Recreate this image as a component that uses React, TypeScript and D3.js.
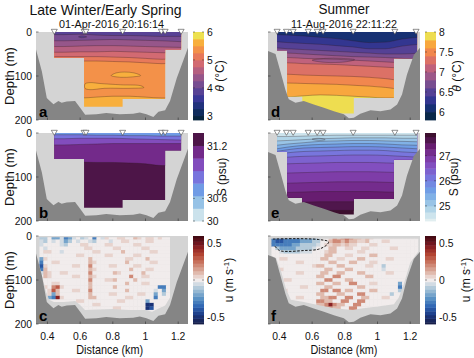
import React from "react";
import * as d3 from "d3";

type Pt = [number, number];
type Iso = [number, number[]];
type Lens = [number, Pt[]];

// layout
const W = 474;
const H = 358;
const PW = 152;
const PH = 88;
const CBW = 11;
const colX = [36, 268];
const rowY = [32, 133, 236];
const LIGHT = "#d4d4d4";
const GROUND = "#858585";
const LINE = "rgba(45,25,25,0.6)";
const FONT = "Liberation Sans, Arial, Helvetica, sans-serif";
const SQUEEZE = 0.9; // the figure's text is a little narrow

// ---------------- data ----------------
const distTicks = [0.4, 0.6, 0.8, 1, 1.2];
const depthTicks = [0, 100, 200];

// distances (km) where isoline depths were read
const aprKnots = [0.44, 0.5, 0.6, 0.7, 0.8, 0.9, 1.0, 1.1, 1.22];
const augKnots = [0.38, 0.45, 0.55, 0.65, 0.75, 0.85, 0.95, 1.05, 1.15, 1.25];

// CTD casts (triangles)
const aprStations = [0.442, 0.624, 0.636, 0.86, 1.097, 1.12, 1.218];
const augStations = [0.386, 0.443, 0.484, 0.576, 0.631, 0.667, 0.851, 1.106, 1.236];

// seafloor (km, m)
const aprSeafloor: Pt[] = [
  [0.33, 40], [0.366, 90], [0.396, 150], [0.41, 155], [0.437, 164], [0.467, 157], [0.487, 161],
  [0.518, 158], [0.569, 157], [0.6, 172], [0.631, 188], [0.7, 187], [0.76, 184], [0.842, 187],
  [0.924, 186], [0.965, 183], [1.006, 187], [1.048, 193], [1.079, 181], [1.12, 178], [1.15, 157],
  [1.191, 105], [1.26, 36],
];
const augSeafloor: Pt[] = [
  [0.33, 43], [0.376, 50], [0.406, 90], [0.437, 132], [0.457, 153], [0.498, 161], [0.549, 157],
  [0.61, 165], [0.672, 172], [0.733, 180], [0.794, 187], [0.825, 196], [0.855, 195], [0.895, 186],
  [0.957, 178], [1.018, 180], [1.079, 176], [1.12, 165], [1.15, 142], [1.18, 97], [1.222, 52], [1.26, 36],
];

// sampled areas
const aprCtdArea: Pt[] = [
  [0.442, 0], [1.218, 0], [1.218, 40], [1.12, 40], [1.12, 152], [0.86, 152], [0.86, 170],
  [0.624, 170], [0.624, 59], [0.442, 59],
];
const augCtdArea: Pt[] = [
  [0.386, 0], [1.242, 0], [1.242, 60], [1.1, 60], [1.1, 150], [0.855, 150], [0.855, 185],
  [0.54, 185], [0.54, 147], [0.447, 147], [0.447, 42], [0.386, 42],
];
const aprAdcpArea: Pt[] = [
  [0.35, 3], [1.15, 3], [1.15, 140], [1.12, 158], [1.08, 165], [1.04, 172], [1.0, 168], [0.9, 168],
  [0.8, 166], [0.7, 167], [0.63, 168], [0.6, 157], [0.57, 148], [0.5, 150], [0.44, 150], [0.41, 145],
  [0.39, 125], [0.366, 88], [0.35, 68],
];
const augAdcpArea: Pt[] = [
  [0.35, 6], [1.25, 6], [1.25, 35], [1.2, 60], [1.16, 110], [1.13, 140], [1.1, 155], [1.0, 160],
  [0.9, 165], [0.85, 168], [0.75, 165], [0.65, 158], [0.55, 150], [0.47, 145], [0.44, 120],
  [0.41, 80], [0.38, 50], [0.35, 45],
];

// potential temperature, April
const thetaAprLevels = [2.85, 3, 3.25, 3.5, 3.75, 4, 4.25, 4.5, 4.75, 5, 5.25, 5.5, 5.75, 6];
const thetaAprTicks = [3, 4, 5, 6];
const thetaAprIso: Iso[] = [
  [4.0, [6, 6, 5, 7, 8, 8, 9, 10, 10]],
  [4.25, [20, 20, 19, 18, 17, 18, 19, 20, 22]],
  [4.5, [33, 33, 32, 31, 31, 32, 33, 34, 35]],
  [4.75, [46, 46, 45, 45, 44, 45, 46, 47, 48]],
  [5.0, [56, 56, 56, 56, 57, 58, 60, 62, 60]],
  [5.25, [68, 68, 66, 66, 67, 68, 70, 72, 70]],
  [5.5, [150, 150, 150, 148, 146, 146, 148, 150, 150]],
];
const thetaAprLenses: Lens[] = [
  [5.6, [[0.79, 99], [0.82, 93], [0.87, 91], [0.93, 93], [0.97, 99], [0.92, 102], [0.85, 103]]],
  [5.6, [[0.63, 118], [0.66, 115], [0.72, 117], [0.85, 120], [0.97, 122], [0.99, 126], [0.9, 128], [0.75, 128], [0.66, 131], [0.63, 128]]],
  [3.9, [[0.59, 11], [0.61, 9], [0.64, 11], [0.61, 13]]],
];

// potential temperature, August
const thetaAugLevels = [5.8, 6.0, 6.2, 6.4, 6.6, 6.8, 7.0, 7.2, 7.4, 7.6, 7.8, 8.0];
const thetaAugTicks = [6, 6.5, 7, 7.5, 8];
const thetaAugIso: Iso[] = [
  [6.2, [6, 7, 9, 12, 15, 20, 24, 23, 16, 12]],
  [6.4, [22, 24, 26, 28, 31, 34, 38, 38, 32, 28]],
  [6.6, [36, 38, 40, 42, 44, 46, 48, 50, 50, 48]],
  [6.8, [48, 48, 50, 52, 54, 56, 57, 58, 60, 62]],
  [7.0, [58, 58, 60, 61, 62, 64, 66, 68, 70, 72]],
  [7.2, [70, 70, 72, 73, 74, 76, 78, 80, 82, 84]],
  [7.4, [98, 96, 98, 99, 100, 101, 103, 106, 110, 110]],
  [7.6, [118, 116, 117, 118, 119, 121, 123, 126, 130, 130]],
  [7.8, [150, 148, 145, 143, 144, 146, 148, 150, 150, 150]],
];
const thetaAugLenses: Lens[] = [
  [6.9, [[0.6, 64], [0.68, 60], [0.78, 60], [0.86, 63], [0.8, 68], [0.68, 69]]],
];

// salinity, April
const salAprLevels = [30, 30.4, 30.65, 30.8, 30.95, 31.1, 31.2, 31.35];
const salAprTicks = [30, 30.6, 31.2];
const salAprIso: Iso[] = [
  [30.8, [4, 4, 4, 5, 5, 6, 6, 7, 7]],
  [30.95, [13, 13, 12, 12, 12, 13, 14, 15, 16]],
  [31.1, [27, 27, 26, 25, 24, 24, 24, 24, 24]],
  [31.2, [64, 64, 66, 67, 67, 68, 70, 74, 74]],
];

// salinity, August
const salAugLevels = [24.4, 24.5, 24.75, 25, 25.25, 25.5, 25.75, 26, 26.25, 26.5, 26.75, 27, 27.25, 27.5, 27.75, 27.9];
const salAugTicks = [25, 26, 27];
const salAugIso: Iso[] = [
  [24.75, [8, 8, 7, 6, 5, 5, 5, 5, 5, 5]],
  [25.0, [18, 17, 15, 13, 12, 11, 11, 11, 12, 12]],
  [25.25, [28, 25, 22, 19, 18, 17, 17, 18, 19, 20]],
  [25.5, [36, 32, 28, 26, 25, 24, 24, 25, 27, 28]],
  [25.75, [42, 38, 34, 33, 32, 31, 31, 32, 34, 36]],
  [26.0, [49, 45, 42, 41, 40, 39, 39, 40, 43, 45]],
  [26.25, [58, 55, 53, 52, 51, 50, 50, 51, 53, 55]],
  [26.5, [72, 70, 69, 68, 67, 67, 67, 68, 69, 71]],
  [26.75, [92, 91, 90, 89, 88, 88, 88, 89, 90, 92]],
  [27.0, [115, 114, 113, 112, 111, 111, 111, 112, 113, 115]],
  [27.25, [136, 135, 134, 133, 133, 133, 133, 134, 135, 136]],
  [27.5, [160, 158, 157, 156, 156, 156, 156, 157, 158, 160]],
  [27.75, [180, 178, 177, 176, 176, 176, 176, 177, 178, 180]],
];
const salAugLenses: Lens[] = [
  [25.1, [[0.6, 14], [0.64, 12], [0.68, 15], [0.64, 17]]],
];

// along-channel velocity, cells 0.025 km x 8 m starting at 0.35 km
const uLevels = [-0.6, -0.575, -0.525, -0.475, -0.425, -0.375, -0.325, -0.275, -0.225, -0.175, -0.125,
  -0.075, -0.025, 0.025, 0.075, 0.125, 0.175, 0.225, 0.275, 0.325, 0.375, 0.425, 0.475, 0.525, 0.575, 0.6];
const uTicks = [-0.5, 0, 0.5];
const uCode: Record<string, number> = {
  f: -0.52, e: -0.42, d: -0.3, c: -0.2, b: -0.1, a: -0.05,
  "0": 0, "1": 0.05, "2": 0.1, "3": 0.2, "4": 0.3, "5": 0.45,
};
const uAprRows = [
  "bb0ccadc a0ba0d0a 10011002 10110100",
  "ab0a0acb 0a00ab00 0a001100 00110000",
  "a0000ab0 00110000 11000001 10000000",
  "0a000000 00011000 00110000 01100000",
  "01100a00 00000110 00002000 00011000",
  "00000000 01100000 11000001 10000000",
  "c1000000 00002000 00000110 00200000",
  "d0011000 00002100 00000200 00011000",
  "e1000000 11003000 01100001 10000000",
  "d2000000 00002100 00000020 00110000",
  "a2100110 00003000 00210000 02000000",
  "02100000 11002100 00000030 01100000",
  "00000000 00003000 11200002 00000000",
  "10011000 00002000 00000200 01100000",
  "01034100 00002000 00200000 00000dd0",
  "00142000 11003000 00000200 0000a0c0",
  "001c2000 00002000 01100000 1100c0b0",
  "00cd5100 00002200 00000110 0000d000",
  "00000000 01100000 00011000 00c00000",
  "00000000 00000110 00000000 00ff0000",
  "00000000 00000000 00110000 00fe0000",
  "00000000 00000000 00000000 00000000",
];
const uAugRows = [
  "ddeddddcc ccb001323 432212100 000000000",
  "deeddddcc cbb002332 322112000 110000000",
  "dddddccbb bba011221 211000110 000000000",
  "0bccccbbb ba0002200 110011000 001100000",
  "00abbbbaa a00012200 000110000 000000000",
  "000000000 000022000 110000220 000000000",
  "001100000 000220011 000220000 011000000",
  "000000110 000002200 022000110 000000000",
  "000000000 012200022 000001100 b00000000",
  "011000000 000022000 220000000 a00000000",
  "000000110 000220022 000220000 011000000",
  "000000000 002200330 000002200 000000000",
  "000110000 000033000 220000000 000000000",
  "000000000 002200220 033000110 0000c0000",
  "000000011 000022000 000220000 0000d0000",
  "001100000 000330330 220000220 0000b0000",
  "000000000 002200022 000330000 00b000000",
  "000000110 000223300 330022000 110000000",
  "000000000 003322003 300330000 000000000",
  "000000000 002235322 003300000 000000000",
  "000000000 000033220 033000000 000000000",
  "000000000 000000000 000000000 000000000",
];
// u = 0 contour around the outflow in August
const uAugZero: Pt[] = [
  [0.36, 7], [0.5, 6], [0.64, 8], [0.7, 13], [0.69, 20], [0.64, 30], [0.55, 33], [0.45, 35], [0.4, 33], [0.37, 22],
];

// colour maps (cmocean thermal / dense / balance)
const thermalStops = ["#042333", "#14306f", "#3a3797", "#6b4a93", "#9c5889", "#cd6677", "#ef7f52", "#f9ab3c", "#e8fa5b"];
const denseStops = ["#e6f1f1", "#a6cfe6", "#6fa2e6", "#7874dd", "#8446b8", "#6c1f78", "#360e24"];
const balanceStops = ["#181c43", "#1a3680", "#2f65b3", "#5d95c5", "#a7c3d6", "#f1ecec", "#dcb0a1", "#c97660", "#b03e2d", "#7c1720", "#3c0912"];

// ---------------- drawing ----------------
const xKm = d3.scaleLinear().domain([0.33, 1.26]).range([0, PW]);
const yDep = d3.scaleLinear().domain([0, 200]).range([0, PH]);
const U_X0 = 0.35;
const U_DX = 0.025;
const U_DZ = 8;

const polyPath = d3.line<Pt>().x((p) => xKm(p[0])).y((p) => yDep(p[1])).curve(d3.curveLinearClosed);
const groundPath = d3.area<Pt>().x((p) => xKm(p[0])).y0(PH).y1((p) => yDep(p[1]));

function ramp(stops: string[]) {
  return d3.scaleLinear<string>()
    .domain(stops.map((_, i) => i / (stops.length - 1)))
    .range(stops)
    .clamp(true);
}

type Scheme = { levels: number[]; frac: (v: number) => number; cmap: (t: number) => string };

function bandColor(s: Scheme, v: number) {
  const L = s.levels;
  let i = d3.bisectRight(L, v) - 1;
  i = Math.max(0, Math.min(L.length - 2, i));
  return s.cmap(s.frac((L[i] + L[i + 1]) / 2));
}

const thermal = ramp(thermalStops);
const dense = ramp(denseStops);
const balance = ramp(balanceStops);

const thetaAprScheme: Scheme = { levels: thetaAprLevels, frac: d3.scaleLinear([2.85, 6], [0, 1]), cmap: thermal };
const thetaAugScheme: Scheme = { levels: thetaAugLevels, frac: d3.scaleLinear([5.8, 8.0], [0, 1]), cmap: thermal };
const salAprScheme: Scheme = {
  levels: salAprLevels,
  frac: d3.scaleLinear(salAprLevels, salAprLevels.map((_, i) => i / (salAprLevels.length - 1))),
  cmap: dense,
};
const salAugScheme: Scheme = { levels: salAugLevels, frac: d3.scaleLinear([24.4, 27.9], [0, 1]), cmap: dense };
const uScheme: Scheme = { levels: uLevels, frac: d3.scaleLinear([-0.6, 0.6], [0, 1]), cmap: balance };

// horizontal text, slightly narrowed like the original
function T(props: { x: number; y: number; size: number; anchor?: string; dy?: string; children: React.ReactNode }) {
  const { x, y, size, anchor, dy, children } = props;
  return (
    <text transform={`translate(${x},${y}) scale(${SQUEEZE},1)`} fontSize={size} textAnchor={anchor ?? "start"}
      dy={dy} fill="#111">
      {children}
    </text>
  );
}

function ContourFill({ knots, iso, lenses, scheme }: { knots: number[]; iso: Iso[]; lenses: Lens[]; scheme: Scheme }) {
  const area = d3.area<number>().x((_, i) => xKm(knots[i])).y0(0).y1((d) => yDep(d)).curve(d3.curveMonotoneX);
  const line = d3.line<number>().x((_, i) => xKm(knots[i])).y((d) => yDep(d)).curve(d3.curveMonotoneX);
  const blob = d3.line<Pt>().x((p) => xKm(p[0])).y((p) => yDep(p[1])).curve(d3.curveCatmullRomClosed);
  const deepest = iso[iso.length - 1][0];
  return (
    <g>
      <rect width={PW} height={PH} fill={bandColor(scheme, deepest + 1e-6)} />
      {[...iso].reverse().map(([v, d]) => (
        <path key={"f" + v} d={area(d) ?? ""} fill={bandColor(scheme, v - 1e-6)} />
      ))}
      {lenses.map(([v, pts], i) => (
        <path key={"l" + i} d={blob(pts) ?? ""} fill={bandColor(scheme, v)} stroke={LINE} strokeWidth={0.5} />
      ))}
      {iso.map(([v, d]) => (
        <path key={"c" + v} d={line(d) ?? ""} fill="none" stroke={LINE} strokeWidth={0.5} />
      ))}
    </g>
  );
}

function VelocityCells({ rows }: { rows: string[] }) {
  const cells: React.ReactNode[] = [];
  rows.forEach((r, i) => {
    const s = r.replace(/ /g, "");
    for (let j = 0; j < s.length; j++) {
      const v = uCode[s[j]];
      if (v === undefined) continue;
      const xa = xKm(U_X0 + j * U_DX);
      const xb = xKm(U_X0 + (j + 1) * U_DX);
      cells.push(
        <rect key={i + "-" + j} x={xa} y={yDep(i * U_DZ)} width={xb - xa + 0.3} height={yDep(U_DZ) + 0.3}
          fill={bandColor(uScheme, v)} />
      );
    }
  });
  return <g>{cells}</g>;
}

function Section(props: {
  id: string; col: number; row: number; seafloor: Pt[]; area: Pt[]; stations?: number[];
  letter: string; children: React.ReactNode; overlay?: React.ReactNode;
}) {
  const { id, col, row, seafloor, area, stations, letter, children, overlay } = props;
  return (
    <g transform={`translate(${colX[col]},${rowY[row]})`}>
      <defs>
        <clipPath id={id}>
          <path d={polyPath(area) ?? ""} />
        </clipPath>
      </defs>
      <rect width={PW} height={PH} fill={LIGHT} />
      <g clipPath={`url(#${id})`}>{children}</g>
      <path d={groundPath(seafloor) ?? ""} fill={GROUND} />
      {overlay}
      {depthTicks.map((t) => (
        <line key={"yt" + t} x1={0} x2={2.5} y1={yDep(t)} y2={yDep(t)} stroke="#333" strokeWidth={0.6} />
      ))}
      {distTicks.map((t) => (
        <line key={"xt" + t} x1={xKm(t)} x2={xKm(t)} y1={PH} y2={PH - 2.5} stroke="#333" strokeWidth={0.6} />
      ))}
      {stations &&
        stations.map((s, i) => (
          <path key={"st" + i} transform={`translate(${xKm(s)},-0.3)`} d="M-3,-2.4L3,-2.4L0,2.6Z"
            fill="#fff" stroke="#444" strokeWidth={0.6} />
        ))}
      <text x={3} y={PH - 3} fontSize={15} fontWeight="bold" fill="#000">{letter}</text>
    </g>
  );
}

function Colorbar(props: {
  col: number; row: number; scheme: Scheme; ticks: number[]; title: React.ReactNode; titleX: number;
}) {
  const { col, row, scheme, ticks, title, titleX } = props;
  const x = colX[col] + PW + 5;
  const y = rowY[row];
  const pos = (v: number) => y + PH * (1 - scheme.frac(v));
  const L = scheme.levels;
  return (
    <g>
      {L.slice(1).map((hi, i) => (
        <rect key={i} x={x} width={CBW} y={pos(hi)} height={pos(L[i]) - pos(hi) + 0.4}
          fill={scheme.cmap(scheme.frac((L[i] + hi) / 2))} />
      ))}
      {ticks.map((t) => (
        <g key={t}>
          <line x1={x} x2={x + 2} y1={pos(t)} y2={pos(t)} stroke="#333" strokeWidth={0.5} />
          <line x1={x + CBW - 2} x2={x + CBW} y1={pos(t)} y2={pos(t)} stroke="#333" strokeWidth={0.5} />
          <T x={x + CBW + 3} y={pos(t)} dy="0.35em" size={11.5}>{String(t)}</T>
        </g>
      ))}
      <text transform={`translate(${titleX},${y + PH / 2}) rotate(-90)`} textAnchor="middle" fontSize={12} fill="#111">
        {title}
      </text>
    </g>
  );
}

const lineZero = d3.line<Pt>().x((p) => xKm(p[0])).y((p) => yDep(p[1])).curve(d3.curveCatmullRom);

export default function App() {
  const thetaTitle = (
    <>
      <tspan fontStyle="italic">θ</tspan> (°C)
    </>
  );
  const uTitle = (
    <>
      u (m s<tspan dy={-4} fontSize={8}>-1</tspan>
      <tspan dy={4}>)</tspan>
    </>
  );
  return (
    <svg width={W} height={H} viewBox={`0 0 ${W} ${H}`}
      style={{ position: "fixed", left: 0, top: 0, background: "#fff" }} fontFamily={FONT}>
      {/* titles */}
      <text x={105.5} y={15} textAnchor="middle" fontSize={15} textLength={152} lengthAdjust="spacingAndGlyphs" fill="#111">
        Late Winter/Early Spring
      </text>
      <text x={111.5} y={27.5} textAnchor="middle" fontSize={11} textLength={105} lengthAdjust="spacingAndGlyphs" fill="#111">
        01-Apr-2016 20:16:14
      </text>
      <text x={344} y={13.5} textAnchor="middle" fontSize={14} textLength={51} lengthAdjust="spacingAndGlyphs" fill="#111">
        Summer
      </text>
      <text x={344} y={27.5} textAnchor="middle" fontSize={11} textLength={106} lengthAdjust="spacingAndGlyphs" fill="#111">
        11-Aug-2016 22:11:22
      </text>

      {/* a */}
      <Section id="clipA" col={0} row={0} seafloor={aprSeafloor} area={aprCtdArea} stations={aprStations} letter="a">
        <ContourFill knots={aprKnots} iso={thetaAprIso} lenses={thetaAprLenses} scheme={thetaAprScheme} />
      </Section>
      <Colorbar col={0} row={0} scheme={thetaAprScheme} ticks={thetaAprTicks} title={thetaTitle} titleX={224} />

      {/* b */}
      <Section id="clipB" col={0} row={1} seafloor={aprSeafloor} area={aprCtdArea} stations={aprStations} letter="b">
        <ContourFill knots={aprKnots} iso={salAprIso} lenses={[]} scheme={salAprScheme} />
      </Section>
      <Colorbar col={0} row={1} scheme={salAprScheme} ticks={salAprTicks} title="S (psu)" titleX={226} />

      {/* c */}
      <Section id="clipC" col={0} row={2} seafloor={aprSeafloor} area={aprAdcpArea} letter="c">
        <VelocityCells rows={uAprRows} />
      </Section>
      <Colorbar col={0} row={2} scheme={uScheme} ticks={uTicks} title={uTitle} titleX={233} />

      {/* d */}
      <Section id="clipD" col={1} row={0} seafloor={augSeafloor} area={augCtdArea} stations={augStations} letter="d">
        <ContourFill knots={augKnots} iso={thetaAugIso} lenses={thetaAugLenses} scheme={thetaAugScheme} />
      </Section>
      <Colorbar col={1} row={0} scheme={thetaAugScheme} ticks={thetaAugTicks} title={thetaTitle} titleX={461} />

      {/* e */}
      <Section id="clipE" col={1} row={1} seafloor={augSeafloor} area={augCtdArea} stations={augStations} letter="e">
        <ContourFill knots={augKnots} iso={salAugIso} lenses={salAugLenses} scheme={salAugScheme} />
      </Section>
      <Colorbar col={1} row={1} scheme={salAugScheme} ticks={salAugTicks} title="S (psu)" titleX={458} />

      {/* f */}
      <Section id="clipF" col={1} row={2} seafloor={augSeafloor} area={augAdcpArea} letter="f"
        overlay={<path d={lineZero(uAugZero) ?? ""} fill="none" stroke="#000" strokeWidth={0.9} strokeDasharray="2.5,1.5" />}>
        <VelocityCells rows={uAugRows} />
      </Section>
      <Colorbar col={1} row={2} scheme={uScheme} ticks={uTicks} title={uTitle} titleX={470} />

      {/* depth axis labels */}
      {rowY.map((ry, r) => (
        <g key={"ya" + r}>
          {depthTicks.map((t) => (
            <T key={t} x={colX[0] - 4} y={ry + yDep(t)} dy="0.35em" anchor="end" size={11.5}>
              {t}
            </T>
          ))}
          <text transform={`translate(9,${ry + PH / 2}) rotate(-90)`} dy="0.35em" textAnchor="middle" fontSize={13} fill="#111">
            Depth (m)
          </text>
        </g>
      ))}

      {/* distance axis labels */}
      {colX.map((cx, c) => (
        <g key={"xa" + c}>
          {distTicks.map((t) => (
            <T key={t} x={cx + xKm(t)} y={340} anchor="middle" size={11.5}>
              {String(t)}
            </T>
          ))}
          <text x={cx + (c === 0 ? 73.7 : 76)} y={354} textAnchor="middle" fontSize={13} textLength={67}
            lengthAdjust="spacingAndGlyphs" fill="#111">
            Distance (km)
          </text>
        </g>
      ))}
    </svg>
  );
}
